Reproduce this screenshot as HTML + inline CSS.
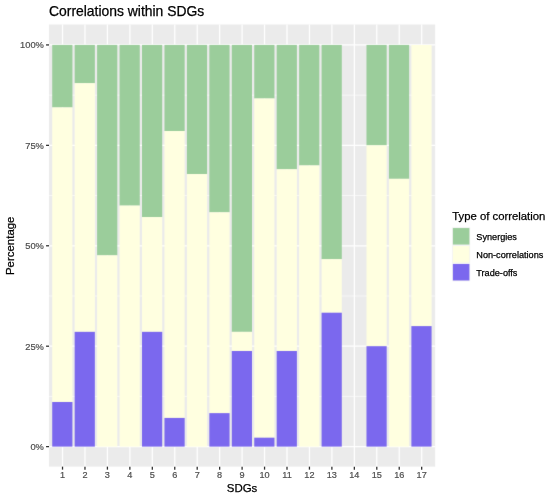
<!DOCTYPE html><html><head><meta charset="utf-8"><title>Correlations within SDGs</title>
<style>html,body{margin:0;padding:0;background:#fff}svg{display:block}text{font-family:"Liberation Sans",Arial,Helvetica,sans-serif;stroke-width:0.25px;paint-order:stroke}text[fill="#000"]{stroke:#000}text[fill="#4D4D4D"]{stroke:#4D4D4D;stroke-width:0.2px}</style></head><body>
<svg width="550" height="496" viewBox="0 0 550 496">
<defs><filter id="soft" x="0" y="0" width="550" height="496" filterUnits="userSpaceOnUse" color-interpolation-filters="sRGB"><feConvolveMatrix order="3" kernelMatrix="0.0081 0.0738 0.0081 0.0738 0.6724 0.0738 0.0081 0.0738 0.0081" divisor="1" edgeMode="duplicate" preserveAlpha="true"/></filter></defs>
<rect x="0" y="0" width="550" height="496" fill="#ffffff"/>
<g filter="url(#soft)">
<rect x="0" y="0" width="550" height="496" fill="#ffffff"/>
<rect x="49.05" y="24.5" width="386.10" height="442.15" fill="#EBEBEB"/>
<line x1="49.05" x2="435.15" y1="396.41" y2="396.41" stroke="#fff" stroke-width="0.62"/>
<line x1="49.05" x2="435.15" y1="295.99" y2="295.99" stroke="#fff" stroke-width="0.62"/>
<line x1="49.05" x2="435.15" y1="195.56" y2="195.56" stroke="#fff" stroke-width="0.62"/>
<line x1="49.05" x2="435.15" y1="95.14" y2="95.14" stroke="#fff" stroke-width="0.62"/>
<line x1="49.05" x2="435.15" y1="446.62" y2="446.62" stroke="#fff" stroke-width="1.25"/>
<line x1="49.05" x2="435.15" y1="346.20" y2="346.20" stroke="#fff" stroke-width="1.25"/>
<line x1="49.05" x2="435.15" y1="245.78" y2="245.78" stroke="#fff" stroke-width="1.25"/>
<line x1="49.05" x2="435.15" y1="145.35" y2="145.35" stroke="#fff" stroke-width="1.25"/>
<line x1="49.05" x2="435.15" y1="44.93" y2="44.93" stroke="#fff" stroke-width="1.25"/>
<line x1="62.52" x2="62.52" y1="24.5" y2="466.65" stroke="#fff" stroke-width="1.25"/>
<line x1="84.97" x2="84.97" y1="24.5" y2="466.65" stroke="#fff" stroke-width="1.25"/>
<line x1="107.41" x2="107.41" y1="24.5" y2="466.65" stroke="#fff" stroke-width="1.25"/>
<line x1="129.86" x2="129.86" y1="24.5" y2="466.65" stroke="#fff" stroke-width="1.25"/>
<line x1="152.31" x2="152.31" y1="24.5" y2="466.65" stroke="#fff" stroke-width="1.25"/>
<line x1="174.76" x2="174.76" y1="24.5" y2="466.65" stroke="#fff" stroke-width="1.25"/>
<line x1="197.20" x2="197.20" y1="24.5" y2="466.65" stroke="#fff" stroke-width="1.25"/>
<line x1="219.65" x2="219.65" y1="24.5" y2="466.65" stroke="#fff" stroke-width="1.25"/>
<line x1="242.10" x2="242.10" y1="24.5" y2="466.65" stroke="#fff" stroke-width="1.25"/>
<line x1="264.55" x2="264.55" y1="24.5" y2="466.65" stroke="#fff" stroke-width="1.25"/>
<line x1="287.00" x2="287.00" y1="24.5" y2="466.65" stroke="#fff" stroke-width="1.25"/>
<line x1="309.44" x2="309.44" y1="24.5" y2="466.65" stroke="#fff" stroke-width="1.25"/>
<line x1="331.89" x2="331.89" y1="24.5" y2="466.65" stroke="#fff" stroke-width="1.25"/>
<line x1="354.34" x2="354.34" y1="24.5" y2="466.65" stroke="#fff" stroke-width="1.25"/>
<line x1="376.79" x2="376.79" y1="24.5" y2="466.65" stroke="#fff" stroke-width="1.25"/>
<line x1="399.23" x2="399.23" y1="24.5" y2="466.65" stroke="#fff" stroke-width="1.25"/>
<line x1="421.68" x2="421.68" y1="24.5" y2="466.65" stroke="#fff" stroke-width="1.25"/>
<rect x="52.22" y="44.93" width="20.20" height="62.48" fill="#9BCD9B"/>
<rect x="52.22" y="107.42" width="20.20" height="294.57" fill="#FFFFE0"/>
<rect x="52.22" y="401.98" width="20.20" height="44.63" fill="#7B68EE"/>
<rect x="74.66" y="44.93" width="20.20" height="38.26" fill="#9BCD9B"/>
<rect x="74.66" y="83.19" width="20.20" height="248.66" fill="#FFFFE0"/>
<rect x="74.66" y="331.85" width="20.20" height="114.77" fill="#7B68EE"/>
<rect x="97.11" y="44.93" width="20.20" height="210.40" fill="#9BCD9B"/>
<rect x="97.11" y="255.34" width="20.20" height="191.28" fill="#FFFFE0"/>
<rect x="119.56" y="44.93" width="20.20" height="160.67" fill="#9BCD9B"/>
<rect x="119.56" y="205.61" width="20.20" height="241.01" fill="#FFFFE0"/>
<rect x="142.01" y="44.93" width="20.20" height="172.15" fill="#9BCD9B"/>
<rect x="142.01" y="217.08" width="20.20" height="114.77" fill="#FFFFE0"/>
<rect x="142.01" y="331.85" width="20.20" height="114.77" fill="#7B68EE"/>
<rect x="164.46" y="44.93" width="20.20" height="86.07" fill="#9BCD9B"/>
<rect x="164.46" y="131.01" width="20.20" height="286.92" fill="#FFFFE0"/>
<rect x="164.46" y="417.92" width="20.20" height="28.69" fill="#7B68EE"/>
<rect x="186.90" y="44.93" width="20.20" height="129.11" fill="#9BCD9B"/>
<rect x="186.90" y="174.05" width="20.20" height="272.57" fill="#FFFFE0"/>
<rect x="209.35" y="44.93" width="20.20" height="167.37" fill="#9BCD9B"/>
<rect x="209.35" y="212.30" width="20.20" height="200.84" fill="#FFFFE0"/>
<rect x="209.35" y="413.14" width="20.20" height="33.47" fill="#7B68EE"/>
<rect x="231.80" y="44.93" width="20.20" height="286.92" fill="#9BCD9B"/>
<rect x="231.80" y="331.85" width="20.20" height="19.13" fill="#FFFFE0"/>
<rect x="231.80" y="350.98" width="20.20" height="95.64" fill="#7B68EE"/>
<rect x="254.25" y="44.93" width="20.20" height="53.56" fill="#9BCD9B"/>
<rect x="254.25" y="98.49" width="20.20" height="339.20" fill="#FFFFE0"/>
<rect x="254.25" y="437.69" width="20.20" height="8.93" fill="#7B68EE"/>
<rect x="276.69" y="44.93" width="20.20" height="124.33" fill="#9BCD9B"/>
<rect x="276.69" y="169.26" width="20.20" height="181.71" fill="#FFFFE0"/>
<rect x="276.69" y="350.98" width="20.20" height="95.64" fill="#7B68EE"/>
<rect x="299.14" y="44.93" width="20.20" height="120.50" fill="#9BCD9B"/>
<rect x="299.14" y="165.44" width="20.20" height="281.18" fill="#FFFFE0"/>
<rect x="321.59" y="44.93" width="20.20" height="214.23" fill="#9BCD9B"/>
<rect x="321.59" y="259.16" width="20.20" height="53.56" fill="#FFFFE0"/>
<rect x="321.59" y="312.72" width="20.20" height="133.89" fill="#7B68EE"/>
<rect x="366.48" y="44.93" width="20.20" height="100.42" fill="#9BCD9B"/>
<rect x="366.48" y="145.35" width="20.20" height="200.84" fill="#FFFFE0"/>
<rect x="366.48" y="346.20" width="20.20" height="100.42" fill="#7B68EE"/>
<rect x="388.93" y="44.93" width="20.20" height="133.89" fill="#9BCD9B"/>
<rect x="388.93" y="178.83" width="20.20" height="267.79" fill="#FFFFE0"/>
<rect x="411.38" y="44.93" width="20.20" height="281.18" fill="#FFFFE0"/>
<rect x="411.38" y="326.11" width="20.20" height="120.50" fill="#7B68EE"/>
<rect x="452.16" y="227.30" width="17.97" height="17.97" fill="#F2F2F2"/>
<rect x="452.90" y="228.04" width="16.49" height="16.49" fill="#9BCD9B"/>
<rect x="452.16" y="245.27" width="17.97" height="17.97" fill="#F2F2F2"/>
<rect x="452.90" y="246.01" width="16.49" height="16.49" fill="#FFFFE0"/>
<rect x="452.16" y="263.24" width="17.97" height="17.97" fill="#F2F2F2"/>
<rect x="452.90" y="263.98" width="16.49" height="16.49" fill="#7B68EE"/>
</g>
<line x1="62.52" x2="62.52" y1="466.65" y2="469.65" stroke="#333" stroke-width="1.3"/>
<text x="62.52" y="478" font-size="9.15" fill="#4D4D4D" text-anchor="middle">1</text>
<line x1="84.97" x2="84.97" y1="466.65" y2="469.65" stroke="#333" stroke-width="1.3"/>
<text x="84.97" y="478" font-size="9.15" fill="#4D4D4D" text-anchor="middle">2</text>
<line x1="107.41" x2="107.41" y1="466.65" y2="469.65" stroke="#333" stroke-width="1.3"/>
<text x="107.41" y="478" font-size="9.15" fill="#4D4D4D" text-anchor="middle">3</text>
<line x1="129.86" x2="129.86" y1="466.65" y2="469.65" stroke="#333" stroke-width="1.3"/>
<text x="129.86" y="478" font-size="9.15" fill="#4D4D4D" text-anchor="middle">4</text>
<line x1="152.31" x2="152.31" y1="466.65" y2="469.65" stroke="#333" stroke-width="1.3"/>
<text x="152.31" y="478" font-size="9.15" fill="#4D4D4D" text-anchor="middle">5</text>
<line x1="174.76" x2="174.76" y1="466.65" y2="469.65" stroke="#333" stroke-width="1.3"/>
<text x="174.76" y="478" font-size="9.15" fill="#4D4D4D" text-anchor="middle">6</text>
<line x1="197.20" x2="197.20" y1="466.65" y2="469.65" stroke="#333" stroke-width="1.3"/>
<text x="197.20" y="478" font-size="9.15" fill="#4D4D4D" text-anchor="middle">7</text>
<line x1="219.65" x2="219.65" y1="466.65" y2="469.65" stroke="#333" stroke-width="1.3"/>
<text x="219.65" y="478" font-size="9.15" fill="#4D4D4D" text-anchor="middle">8</text>
<line x1="242.10" x2="242.10" y1="466.65" y2="469.65" stroke="#333" stroke-width="1.3"/>
<text x="242.10" y="478" font-size="9.15" fill="#4D4D4D" text-anchor="middle">9</text>
<line x1="264.55" x2="264.55" y1="466.65" y2="469.65" stroke="#333" stroke-width="1.3"/>
<text x="264.55" y="478" font-size="9.15" fill="#4D4D4D" text-anchor="middle">10</text>
<line x1="287.00" x2="287.00" y1="466.65" y2="469.65" stroke="#333" stroke-width="1.3"/>
<text x="287.00" y="478" font-size="9.15" fill="#4D4D4D" text-anchor="middle">11</text>
<line x1="309.44" x2="309.44" y1="466.65" y2="469.65" stroke="#333" stroke-width="1.3"/>
<text x="309.44" y="478" font-size="9.15" fill="#4D4D4D" text-anchor="middle">12</text>
<line x1="331.89" x2="331.89" y1="466.65" y2="469.65" stroke="#333" stroke-width="1.3"/>
<text x="331.89" y="478" font-size="9.15" fill="#4D4D4D" text-anchor="middle">13</text>
<line x1="354.34" x2="354.34" y1="466.65" y2="469.65" stroke="#333" stroke-width="1.3"/>
<text x="354.34" y="478" font-size="9.15" fill="#4D4D4D" text-anchor="middle">14</text>
<line x1="376.79" x2="376.79" y1="466.65" y2="469.65" stroke="#333" stroke-width="1.3"/>
<text x="376.79" y="478" font-size="9.15" fill="#4D4D4D" text-anchor="middle">15</text>
<line x1="399.23" x2="399.23" y1="466.65" y2="469.65" stroke="#333" stroke-width="1.3"/>
<text x="399.23" y="478" font-size="9.15" fill="#4D4D4D" text-anchor="middle">16</text>
<line x1="421.68" x2="421.68" y1="466.65" y2="469.65" stroke="#333" stroke-width="1.3"/>
<text x="421.68" y="478" font-size="9.15" fill="#4D4D4D" text-anchor="middle">17</text>
<line x1="46.05" x2="49.05" y1="446.62" y2="446.62" stroke="#333" stroke-width="1.3"/>
<text x="43.90" y="450" font-size="9.3" fill="#4D4D4D" text-anchor="end">0%</text>
<line x1="46.05" x2="49.05" y1="346.20" y2="346.20" stroke="#333" stroke-width="1.3"/>
<text x="43.90" y="350" font-size="9.3" fill="#4D4D4D" text-anchor="end">25%</text>
<line x1="46.05" x2="49.05" y1="245.78" y2="245.78" stroke="#333" stroke-width="1.3"/>
<text x="43.90" y="249" font-size="9.3" fill="#4D4D4D" text-anchor="end">50%</text>
<line x1="46.05" x2="49.05" y1="145.35" y2="145.35" stroke="#333" stroke-width="1.3"/>
<text x="43.90" y="149" font-size="9.3" fill="#4D4D4D" text-anchor="end">75%</text>
<line x1="46.05" x2="49.05" y1="44.93" y2="44.93" stroke="#333" stroke-width="1.3"/>
<text x="43.90" y="48" font-size="9.3" fill="#4D4D4D" text-anchor="end">100%</text>
<text x="49.05" y="15.7" font-size="13.9" fill="#000">Correlations within SDGs</text>
<text x="242.10" y="491.9" font-size="11.44" fill="#000" text-anchor="middle">SDGs</text>
<text transform="translate(14.3 245.78) rotate(-90)" font-size="11.44" fill="#000" text-anchor="middle">Percentage</text>
<text x="452.2" y="219.9" font-size="11.33" fill="#000">Type of correlation</text>
<text x="476.35" y="239.79" font-size="9.15" fill="#000">Synergies</text>
<text x="476.35" y="257.76" font-size="9.15" fill="#000">Non-correlations</text>
<text x="476.35" y="275.73" font-size="9.15" fill="#000">Trade-offs</text>
</svg></body></html>
